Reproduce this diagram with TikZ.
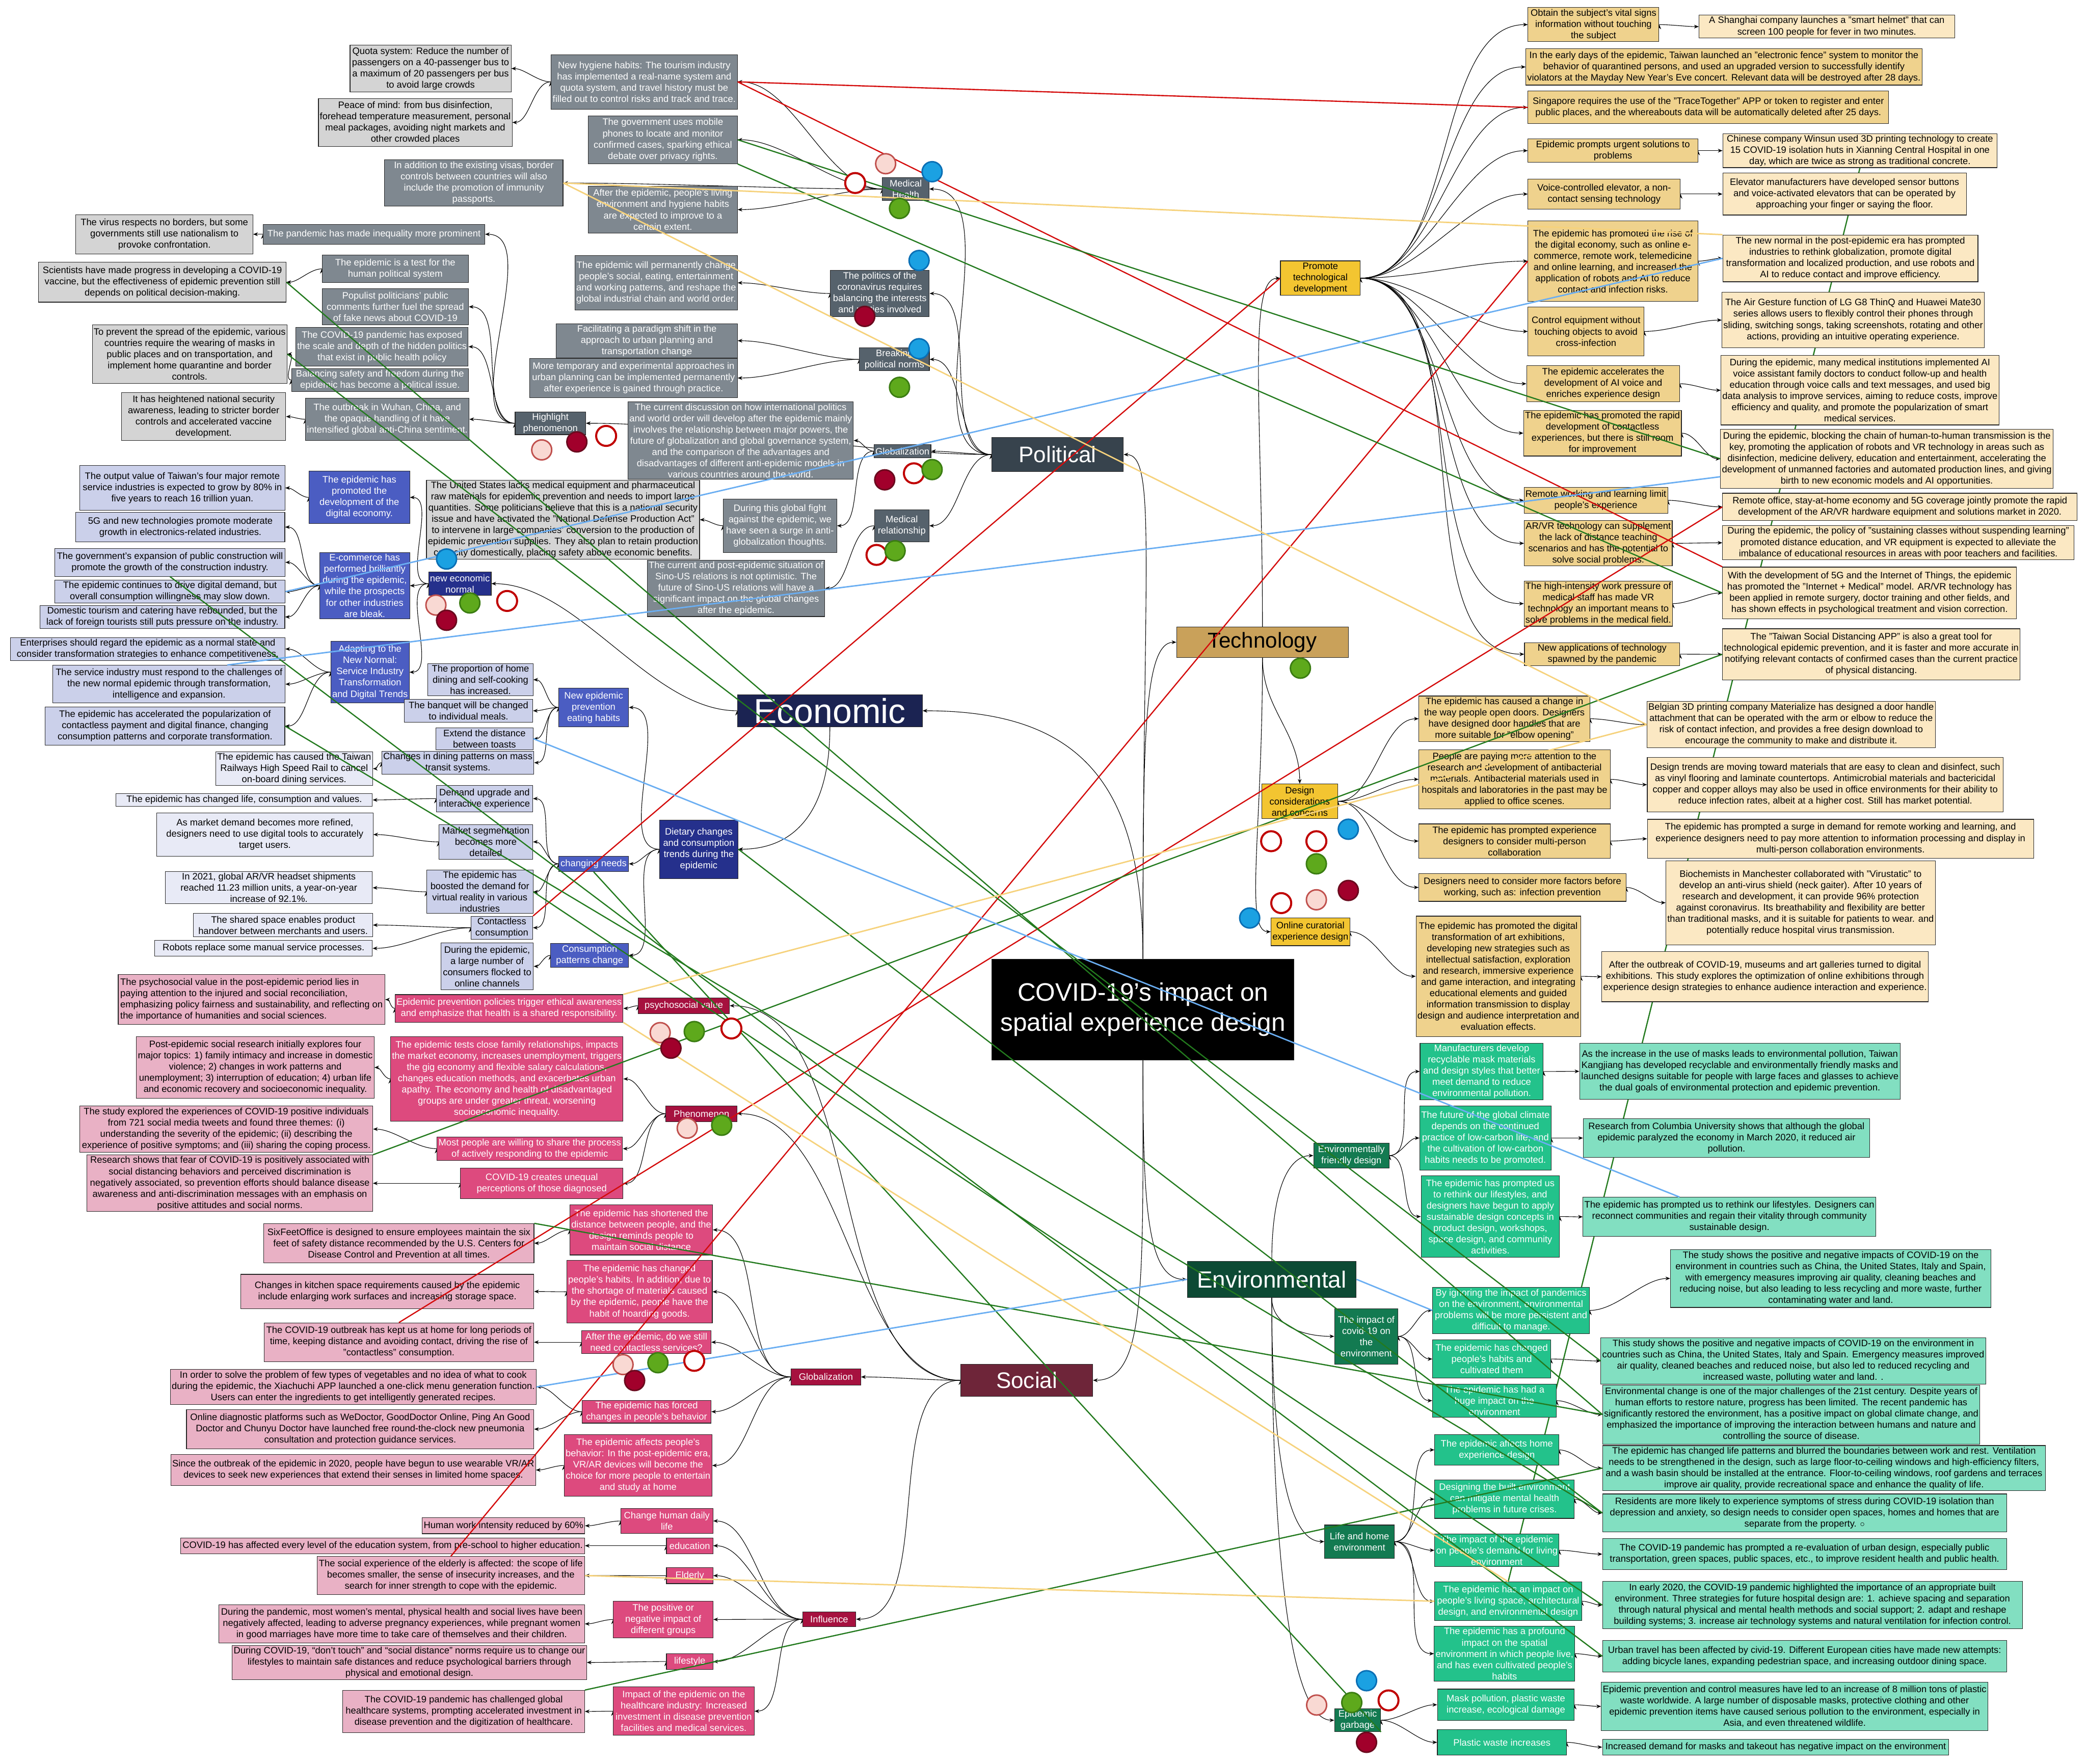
\documentclass[tikz,border=0pt]{standalone}
\usepackage{fontspec}
\setmainfont{Liberation Sans}
\usepackage{xcolor}
\usepackage{tikz}
\usetikzlibrary{arrows.meta,calc}
\pgfdeclarelayer{bg}
\pgfsetlayers{bg,main}
\definecolor{polA}{HTML}{37434D}
\definecolor{polB}{HTML}{56626C}
\definecolor{polC}{HTML}{7F8890}
\definecolor{polD}{HTML}{D4D4D4}
\definecolor{ecoA}{HTML}{1B2352}
\definecolor{ecoB}{HTML}{25308C}
\definecolor{ecoC}{HTML}{4B5DC2}
\definecolor{ecoD}{HTML}{CBD0EA}
\definecolor{ecoE}{HTML}{E8EAF6}
\definecolor{tecA}{HTML}{C9A15A}
\definecolor{tecB}{HTML}{F3C531}
\definecolor{tecC}{HTML}{EFD28D}
\definecolor{tecD}{HTML}{FBE8C3}
\definecolor{socA}{HTML}{6E2539}
\definecolor{socB}{HTML}{A6113F}
\definecolor{socC}{HTML}{DD4A7E}
\definecolor{socD}{HTML}{E9B1C5}
\definecolor{envA}{HTML}{0D4A34}
\definecolor{envB}{HTML}{137A51}
\definecolor{envC}{HTML}{23C28B}
\definecolor{envD}{HTML}{82DFC1}
\definecolor{lnR}{HTML}{D40B0B}
\definecolor{lnG}{HTML}{237A1E}
\definecolor{lnB}{HTML}{6AAEF2}
\definecolor{lnY}{HTML}{F6D27C}
\definecolor{dotPinkF}{HTML}{F9D9D3}
\definecolor{dotPinkD}{HTML}{C0504D}
\definecolor{dotRedF}{HTML}{A1002B}
\definecolor{dotRedD}{HTML}{6B0A1E}
\definecolor{dotGrnF}{HTML}{5EA91C}
\definecolor{dotGrnD}{HTML}{3B7D12}
\definecolor{dotRingD}{HTML}{C00000}
\definecolor{dotBluF}{HTML}{1BA1E2}
\definecolor{dotBluD}{HTML}{0A6FB5}

\begin{document}
\begin{tikzpicture}[x=0.05cm, y=-0.05cm,
  bx/.style={draw=black!85, line width=0.6pt, inner sep=1.5pt, align=center,
    font=\fontsize{10}{12}\selectfont},
  sz/.style 2 args={minimum width=#1*0.05cm, minimum height=#2*0.05cm},
  polhead/.style={bx, fill=polA, text=white, inner sep=2pt, font=\fontsize{24}{28}\selectfont},
  pol2/.style={bx, fill=polB, text=white},
  pol3/.style={bx, fill=polC, text=white},
  pol4/.style={bx, fill=polD},
  ecohead/.style={bx, fill=ecoA, text=white, inner sep=1pt, font=\fontsize{37}{40}\selectfont},
  eco2/.style={bx, fill=ecoB, text=white},
  eco3/.style={bx, fill=ecoC, text=white},
  eco4/.style={bx, fill=ecoD},
  eco5/.style={bx, fill=ecoE},
  techead/.style={bx, fill=tecA, inner sep=2pt, font=\fontsize{23}{26}\selectfont},
  tec2/.style={bx, fill=tecB},
  tec3/.style={bx, fill=tecC},
  tec4/.style={bx, fill=tecD},
  sochead/.style={bx, fill=socA, text=white, inner sep=2pt, font=\fontsize{24}{28}\selectfont},
  soc2/.style={bx, fill=socB, text=white},
  soc3/.style={bx, fill=socC, text=white},
  soc4/.style={bx, fill=socD},
  envhead/.style={bx, fill=envA, text=white, inner sep=2pt, font=\fontsize{25}{28}\selectfont},
  env2/.style={bx, fill=envB, text=white},
  env3/.style={bx, fill=envC, text=white},
  env4/.style={bx, fill=envD},
  dot/.style={circle, inner sep=0pt, minimum size=0.75cm, line width=1.6pt},
  dotpink/.style={dot, fill=dotPinkF, draw=dotPinkD},
  dotred/.style={dot, fill=dotRedF, draw=dotRedD},
  dotgreen/.style={dot, fill=dotGrnF, draw=dotGrnD},
  dotring/.style={dot, fill=white, draw=dotRingD, line width=2.2pt},
  dotblue/.style={dot, fill=dotBluF, draw=dotBluD},
  lk/.style={draw=black, line width=0.6pt, -{Stealth[length=5pt,width=4pt]}},
  tol/.style={out=180, in=0, looseness=0.8},
  tor/.style={out=0, in=180, looseness=0.8},
  xred/.style={draw=lnR, line width=1.3pt},
  xgreen/.style={draw=lnG, line width=1.3pt},
  xblue/.style={draw=lnB, line width=1.5pt},
  xyellow/.style={draw=lnY, line width=1.5pt},
]
\useasboundingbox (0,0) rectangle (1568,1325);

% centre
\node[bx, fill=black, text=white, sz={227}{76}, font=\fontsize{27}{32}\selectfont] (cen) at (858.7,758.5)
  {COVID-19's impact on\\spatial experience design};

% political
\node[polhead, sz={99}{25.6}] (pol) at (794.5,341.5) {Political};
\node[pol4, sz={121}{35}] (pq) at (323.5,51.5) {Quota system: Reduce the number of\\passengers on a 40-passenger bus to\\a maximum of 20 passengers per bus\\to avoid large crowds};
\node[pol4, sz={144}{36}] (pm) at (312,92) {Peace of mind: from bus disinfection,\\forehead temperature measurement, personal\\meal packages, avoiding night markets and\\other crowded places};
\node[pol3, sz={140}{41}] (ph) at (484,61.5) {New hygiene habits: The tourism industry\\has implemented a real-name system and\\quota system, and travel history must be\\filled out to control risks and track and trace.};
\node[pol3, sz={112}{36}] (pg) at (498,105) {The government uses mobile\\phones to locate and monitor\\confirmed cases, sparking ethical\\debate over privacy rights.};
\node[pol3, sz={134}{35}] (pv) at (356,137.5) {In addition to the existing visas, border\\controls between countries will also\\include the promotion of immunity\\passports.};
\node[pol3, sz={112}{35}] (pa) at (498,157.5) {After the epidemic, people's living\\environment and hygiene habits\\are expected to improve to a\\certain extent.};
\node[pol2, sz={35}{17.5}] (pmh) at (680.5,142) {Medical\\Health};
\node[pol4, sz={133}{29.5}] (pvr) at (123.5,176) {The virus respects no borders, but some\\governments still use nationalism to\\provoke confrontation.};
\node[pol3, sz={166.5}{15}] (pin) at (281,176) {The pandemic has made inequality more prominent};
\node[pol4, sz={186}{30}] (psc) at (122,212) {Scientists have made progress in developing a COVID-19\\vaccine, but the effectiveness of epidemic prevention still\\depends on political decision-making.};
\node[pol3, sz={110}{20.5}] (pte) at (297,202) {The epidemic is a test for the\\human political system};
\node[pol3, sz={110}{27}] (ppo) at (297,230.5) {Populist politicians' public\\comments further fuel the spread\\of fake news about COVID-19};
\node[pol4, sz={145}{44}] (ppr) at (142.5,266) {To prevent the spread of the epidemic, various\\countries require the wearing of masks in\\public places and on transportation, and\\implement home quarantine and border\\controls.};
\node[pol3, sz={129.4}{29}] (pex) at (287,260.5) {The COVID-19 pandemic has exposed\\the scale and depth of the hidden politics\\that exist in public health policy};
\node[pol3, sz={133}{17.4}] (pba) at (285.5,285.5) {Balancing safety and freedom during the\\epidemic has become a political issue.};
\node[pol4, sz={123.4}{36}] (pns) at (153,313) {It has heightened national security\\awareness, leading to stricter border\\controls and accelerated vaccine\\development.};
\node[pol3, sz={122}{32}] (pwu) at (291,315) {The outbreak in Wuhan, China, and\\the opaque handling of it have\\intensified global anti-China sentiment.};
\node[pol2, sz={53}{16}] (phl) at (413.5,318) {Highlight\\phenomenon};
\node[pol3, sz={122}{41}] (ppe) at (493,212.5) {The epidemic will permanently change\\people's social, eating, entertainment\\and working patterns, and reshape the\\global industrial chain and world order.};
\node[pol2, sz={74.4}{35}] (pco) at (661,220.5) {The politics of the\\coronavirus requires\\balancing the interests\\and parties involved};
\node[pol3, sz={136}{24}] (pfa) at (486,256) {Facilitating a paradigm shift in the\\approach to urban planning and\\transportation change};
\node[pol3, sz={156}{29.4}] (pmo) at (476,284) {More temporary and experimental approaches in\\urban planning can be implemented permanently\\after experience is gained through practice.};
\node[pol2, sz={52.5}{17.3}] (pbr) at (672,270) {Breaking\\political norms};
\node[pol3, sz={169}{58}] (pcu) at (556.5,331) {The current discussion on how international politics\\and world order will develop after the epidemic mainly\\involves the relationship between major powers, the\\future of globalization and global governance system,\\and the comparison of the advantages and\\disadvantages of different anti-epidemic models in\\various countries around the world.};
\node[pol2, sz={40}{10}] (pgl) at (678,339) {Globalization};
\node[pol4, sz={203.5}{59}] (pus) at (423,390.5) {The United States lacks medical equipment and pharmaceutical\\raw materials for epidemic prevention and needs to import large\\quantities. Some politicians believe that this is a national security\\issue and have activated the "National Defense Production Act"\\to intervene in large companies' conversion to the production of\\epidemic prevention supplies. They also plan to retain production\\capacity domestically, placing safety above economic benefits.};
\node[pol3, sz={85.3}{40}] (pfi) at (586,395) {During this global fight\\against the epidemic, we\\have seen a surge in anti-\\globalization thoughts.};
\node[pol2, sz={41}{24}] (pmr) at (677.5,395) {Medical\\relationship};
\node[pol3, sz={132.4}{40.5}] (psu) at (553,442) {The current and post-epidemic situation of\\Sino-US relations is not optimistic. The\\future of Sino-US relations will have a\\significant impact on the global changes\\after the epidemic.};

% economic
\node[ecohead, sz={139}{24.3}] (eco) at (623.5,534) {Economic};
\node[eco4, sz={154.2}{33.7}] (eov) at (137,366.6) {The output value of Taiwan's four major remote\\service industries is expected to grow by 80\% in\\five years to reach 16 trillion yuan.};
\node[eco3, sz={75.6}{39.4}] (edi) at (270,373.7) {The epidemic has\\promoted the\\development of the\\digital economy.};
\node[eco4, sz={157}{22}] (e5g) at (135.5,396) {5G and new technologies promote moderate\\growth in electronics-related industries.};
\node[eco4, sz={173}{21}] (ego) at (127.7,422.5) {The government's expansion of public construction will\\promote the growth of the construction industry.};
\node[eco3, sz={67.6}{49.7}] (eec) at (274,440) {E-commerce has\\performed brilliantly\\during the epidemic,\\while the prospects\\for other industries\\are bleak.};
\node[eco4, sz={173}{17}] (edd) at (127.7,444.5) {The epidemic continues to drive digital demand, but\\overall consumption willingness may slow down.};
\node[eco4, sz={184}{17}] (edt) at (122,463.5) {Domestic tourism and catering have rebounded, but the\\lack of foreign tourists still puts pressure on the industry.};
\node[eco2, sz={46.7}{17.6}] (enn) at (345.5,438.5) {new economic\\normal};
\node[eco4, sz={206.3}{17}] (een) at (111,487.6) {Enterprises should regard the epidemic as a normal state and\\consider transformation strategies to enhance competitiveness.};
\node[eco3, sz={58.6}{46.4}] (ead) at (278,505) {Adapting to the\\New Normal:\\Service Industry\\Transformation\\and Digital Trends};
\node[eco4, sz={174.5}{28.4}] (esv) at (127,514) {The service industry must respond to the challenges of\\the new normal epidemic through transformation,\\intelligence and expansion.};
\node[eco4, sz={180}{29}] (eac) at (124,545.5) {The epidemic has accelerated the popularization of\\contactless payment and digital finance, changing\\consumption patterns and corporate transformation.};
\node[eco4, sz={79}{22}] (epr) at (361,510.7) {The proportion of home\\dining and self-cooking\\has increased.};
\node[eco3, sz={52.5}{29}] (eeh) at (446,531.5) {New epidemic\\prevention\\eating habits};
\node[eco4, sz={96.5}{17}] (eba) at (352,534) {The banquet will be changed\\to individual meals.};
\node[eco4, sz={73}{16.5}] (eex) at (364,555) {Extend the distance\\between toasts};
\node[eco5, sz={118}{25.3}] (etr) at (221,577.5) {The epidemic has caused the Taiwan\\Railways High Speed Rail to cancel\\on-board dining services.};
\node[eco4, sz={113.5}{16.3}] (edp) at (344,573) {Changes in dining patterns on mass\\transit systems.};
\node[eco5, sz={192.6}{9.6}] (elc) at (183.5,601) {The epidemic has changed life, consumption and values.};
\node[eco4, sz={72.5}{20}] (edu) at (364,600) {Demand upgrade and\\interactive experience};
\node[eco5, sz={162.6}{32.4}] (emd) at (199,627) {As market demand becomes more refined,\\designers need to use digital tools to accurately\\target users.};
\node[eco4, sz={70.5}{26}] (ems) at (365,632.5) {Market segmentation\\becomes more\\detailed};
\node[eco3, sz={52.5}{11.6}] (ecn) at (446,649) {changing needs};
\node[eco2, sz={59}{44}] (edc) at (525,638) {Dietary changes\\and consumption\\trends during the\\epidemic};
\node[eco5, sz={155.6}{24}] (e21) at (202,667) {In 2021, global AR/VR headset shipments\\reached 11.23 million units, a year-on-year\\increase of 92.1\%.};
\node[eco4, sz={80}{30.4}] (evr) at (360.5,670) {The epidemic has\\boosted the demand for\\virtual reality in various\\industries};
\node[eco5, sz={134.6}{17.6}] (esh) at (212.7,695) {The shared space enables product\\handover between merchants and users.};
\node[eco4, sz={46.5}{17.2}] (ecl) at (377,697) {Contactless\\consumption};
\node[eco5, sz={163.6}{12}] (ero) at (198,712.5) {Robots replace some manual service processes.};
\node[eco4, sz={69.5}{35.3}] (eon) at (366,726) {During the epidemic,\\a large number of\\consumers flocked to\\online channels};
\node[eco3, sz={58.5}{18}] (ecp) at (443,717.7) {Consumption\\patterns change};

% social
\node[sochead, sz={99.2}{24}] (soc) at (771.4,1037) {Social};
\node[soc4, sz={200.4}{37.6}, align=left] (spv) at (189,751) {The psychosocial value in the post-epidemic period lies in\\paying attention to the injured and social reconciliation,\\emphasizing policy fairness and sustainability, and reflecting on\\the importance of humanities and social sciences.};
\node[soc3, sz={170.2}{20.7}] (sep) at (382.5,757.6) {Epidemic prevention policies trigger ethical awareness\\and emphasize that health is a shared responsibility.};
\node[soc2, sz={68.5}{11.7}] (sps) at (513.8,755.6) {psychosocial value};
\node[soc4, sz={176.5}{46.6}] (sre) at (191.8,802) {Post-epidemic social research initially explores four\\major topics: 1) family intimacy and increase in domestic\\violence; 2) changes in work patterns and\\unemployment; 3) interruption of education; 4) urban life\\and economic recovery and socioeconomic inequality.};
\node[soc3, sz={174.4}{63.8}] (sfa) at (380.8,810.6) {The epidemic tests close family relationships, impacts\\the market economy, increases unemployment, triggers\\the gig economy and flexible salary calculations,\\changes education methods, and exacerbates urban\\apathy. The economy and health of disadvantaged\\groups are under greater threat, worsening\\socioeconomic inequality.};
\node[soc2, sz={53.4}{11.8}] (sph) at (527,836.7) {Phenomenon};
\node[soc4, sz={220.2}{34.7}] (sst) at (170,848.3) {The study explored the experiences of COVID-19 positive individuals\\from 721 social media tweets and found three themes: (i)\\understanding the severity of the epidemic; (ii) describing the\\experience of positive symptoms; and (iii) sharing the coping process.};
\node[soc3, sz={139.5}{17.6}] (smo) at (398,863) {Most people are willing to share the process\\of actively responding to the epidemic};
\node[soc4, sz={214.6}{40.1}] (sfe) at (172.7,889) {Research shows that fear of COVID-19 is positively associated with\\social distancing behaviors and perceived discrimination is\\negatively associated, so prevention efforts should balance disease\\awareness and anti-discrimination messages with an emphasis on\\positive attitudes and social norms.};
\node[soc3, sz={122}{23.1}] (sun) at (407,889) {COVID-19 creates unequal\\perceptions of those diagnosed};
\node[soc3, sz={105.9}{37.7}] (ssh) at (481.8,924) {The epidemic has shortened the\\distance between people, and the\\design reminds people to\\maintain social distance};
\node[soc4, sz={203}{29.4}] (ssi) at (299.7,934) {SixFeetOffice is designed to ensure employees maintain the six\\feet of safety distance recommended by the U.S. Centers for\\Disease Control and Prevention at all times.};
\node[soc3, sz={108.3}{47}] (sha) at (480.5,970.5) {The epidemic has changed\\people's habits. In addition, due to\\the shortage of materials caused\\by the epidemic, people have the\\habit of hoarding goods.};
\node[soc4, sz={220.3}{25.8}] (ski) at (291,970.3) {Changes in kitchen space requirements caused by the epidemic\\include enlarging work surfaces and increasing storage space.};
\node[soc4, sz={202.7}{29.1}] (sho) at (299.7,1008.4) {The COVID-19 outbreak has kept us at home for long periods of\\time, keeping distance and avoiding contact, driving the rise of\\"contactless" consumption.};
\node[soc3, sz={97.2}{17.3}] (sct) at (485.6,1008.4) {After the epidemic, do we still\\need contactless services?};
\node[soc4, sz={271.3}{26.1}] (sxi) at (265.4,1042) {In order to solve the problem of few types of vegetables and no idea of what to cook\\during the epidemic, the Xiachuchi APP launched a one-click menu generation function.\\Users can enter the ingredients to get intelligently generated recipes.};
\node[soc3, sz={96.9}{17.2}] (sfo) at (485.8,1060.6) {The epidemic has forced\\changes in people's behavior};
\node[soc2, sz={52.4}{12.1}] (sgl) at (620.5,1034.5) {Globalization};
\node[soc4, sz={261}{29.6}] (sdi) at (270.6,1073.7) {Online diagnostic platforms such as WeDoctor, GoodDoctor Online, Ping An Good\\Doctor and Chunyu Doctor have launched free round-the-clock new pneumonia\\consultation and protection guidance services.};
\node[soc3, sz={109.6}{46.5}] (sbe) at (479.4,1101) {The epidemic affects people's\\behavior: In the post-epidemic era,\\VR/AR devices will become the\\choice for more people to entertain\\and study at home};
\node[soc4, sz={271.3}{23.1}] (swe) at (265.4,1104.4) {Since the outbreak of the epidemic in 2020, people have begun to use wearable VR/AR\\devices to seek new experiences that extend their senses in limited home spaces.};
\node[soc4, sz={121.9}{11.9}] (swi) at (378.3,1146.3) {Human work intensity reduced by 60\%};
\node[soc3, sz={69.3}{19}] (sdl) at (501,1142.7) {Change human daily\\life};
\node[soc4, sz={303.5}{11.9}] (sel) at (287.5,1161.3) {COVID-19 has affected every level of the education system, from pre-school to higher education.};
\node[soc3, sz={35}{11.9}] (sed) at (518.2,1161.3) {education};
\node[soc4, sz={201}{28.5}] (sse) at (338.7,1183.7) {The social experience of the elderly is affected: the scope of life\\becomes smaller, the sense of insecurity increases, and the\\search for inner strength to cope with the epidemic.};
\node[soc3, sz={35}{11.9}] (sol) at (518.2,1183.8) {Elderly};
\node[soc4, sz={274.8}{28.8}] (swo) at (301.8,1220) {During the pandemic, most women's mental, physical health and social lives have been\\negatively affected, leading to adverse pregnancy experiences, while pregnant women\\in good marriages have more time to take care of themselves and their children.};
\node[soc3, sz={74.9}{27.4}] (spn) at (498.3,1216.7) {The positive or\\negative impact of\\different groups};
\node[soc2, sz={40}{11}] (sif) at (623,1216.5) {Influence};
\node[soc4, sz={263.2}{23.7}] (sdt) at (307.6,1249) {During COVID-19, “don't touch” and “social distance” norms require us to change our\\lifestyles to maintain safe distances and reduce psychological barriers through\\physical and emotional design.};
\node[soc3, sz={35}{11.9}] (sli) at (518.2,1248.3) {lifestyle};
\node[soc4, sz={181.6}{31.7}] (shc) at (348.4,1285.8) {The COVID-19 pandemic has challenged global\\healthcare systems, prompting accelerated investment in\\disease prevention and the digitization of healthcare.};
\node[soc3, sz={105.9}{36.3}] (sih) at (513.7,1285.6) {Impact of the epidemic on the\\healthcare industry: Increased\\investment in disease prevention\\facilities and medical services.};

% technology
\node[techead, sz={129}{23}] (tec) at (948.5,482.5) {Technology};
\node[tec2, sz={60}{26}] (tpr) at (992,209) {Promote\\technological\\development};
\node[tec3, sz={98.4}{25.6}] (tob) at (1197.2,18.5) {Obtain the subject's vital signs\\information without touching\\the subject};
\node[tec4, sz={192}{17.1}] (tsh) at (1372.5,20) {A Shanghai company launches a "smart helmet" that can\\screen 100 people for fever in two minutes.};
\node[tec3, sz={294.3}{27.3}] (tfe) at (1295.2,50.3) {In the early days of the epidemic, Taiwan launched an "electronic fence" system to monitor the\\behavior of quarantined persons, and used an upgraded version to successfully identify\\violators at the Mayday New Year's Eve concert. Relevant data will be destroyed after 28 days.};
\node[tec3, sz={271}{24.5}] (tsg) at (1283.5,80.7) {Singapore requires the use of the "TraceTogether" APP or token to register and enter\\public places, and the whereabouts data will be automatically deleted after 25 days.};
\node[tec3, sz={127.6}{17.6}] (tur) at (1211.8,113.2) {Epidemic prompts urgent solutions to\\problems};
\node[tec4, sz={206.1}{22.4}] (tws) at (1397.4,113.2) {Chinese company Winsun used 3D printing technology to create\\15 COVID-19 isolation huts in Xianning Central Hospital in one\\day, which are twice as strong as traditional concrete.};
\node[tec3, sz={114.4}{22.4}] (tvo) at (1205.2,145.8) {Voice-controlled elevator, a non-\\contact sensing technology};
\node[tec4, sz={183}{31.5}] (tel) at (1385.8,145.8) {Elevator manufacturers have developed sensor buttons\\and voice-activated elevators that can be operated by\\approaching your finger or saying the floor.};
\node[tec3, sz={127.6}{60.4}] (tdg) at (1211.8,196.2) {The epidemic has promoted the rise of\\the digital economy, such as online e-\\commerce, remote work, telemedicine\\and online learning, and increased the\\application of robots and AI to reduce\\contact and infection risks.};
\node[tec4, sz={191.7}{35.2}] (tnn) at (1390.2,194.1) {The new normal in the post-epidemic era has prompted\\industries to rethink globalization, promote digital\\transformation and localized production, and use robots and\\AI to reduce contact and improve efficiency.};
\node[tec3, sz={87.2}{36.9}] (tce) at (1191.6,249) {Control equipment without\\touching objects to avoid\\cross-infection};
\node[tec4, sz={195.9}{41.6}] (tag) at (1392.3,240.5) {The Air Gesture function of LG G8 ThinQ and Huawei Mate30\\series allows users to flexibly control their phones through\\sliding, switching songs, taking screenshots, rotating and other\\actions, providing an intuitive operating experience.};
\node[tec3, sz={115}{27.4}] (tai) at (1204.5,288.3) {The epidemic accelerates the\\development of AI voice and\\enriches experience design};
\node[tec4, sz={206.3}{52.1}] (tmi) at (1397.4,293.2) {During the epidemic, many medical institutions implemented AI\\voice assistant family doctors to conduct follow-up and health\\education through voice calls and text messages, and used big\\data analysis to improve services, aiming to reduce costs, improve\\efficiency and quality, and promote the popularization of smart\\medical services.};
\node[tec3, sz={116}{34.4}] (trc) at (1204,325.4) {The epidemic has promoted the rapid\\development of contactless\\experiences, but there is still room\\for improvement};
\node[tec4, sz={246.8}{44.5}] (tbl) at (1417.6,344.7) {During the epidemic, blocking the chain of human-to-human transmission is the\\key, promoting the application of robots and VR technology in areas such as\\disinfection, medicine delivery, education and entertainment, accelerating the\\development of unmanned factories and automated production lines, and giving\\birth to new economic models and AI opportunities.};
\node[tec3, sz={107.4}{19.3}] (trw) at (1199,375.9) {Remote working and learning limit\\people's experience};
\node[tec4, sz={266.3}{20.5}] (tro) at (1427.4,380.8) {Remote office, stay-at-home economy and 5G coverage jointly promote the rapid\\development of the AR/VR hardware equipment and solutions market in 2020.};
\node[tec3, sz={111}{34.1}] (tar) at (1200.8,408.2) {AR/VR technology can supplement\\the lack of distance teaching\\scenarios and has the potential to\\solve social problems.};
\node[tec4, sz={264}{25.1}] (tsc) at (1426.2,407.8) {During the epidemic, the policy of "sustaining classes without suspending learning"\\promoted distance education, and VR equipment is expected to alleviate the\\imbalance of educational resources in areas with poor teachers and facilities.};
\node[tec3, sz={111}{33.6}] (thi) at (1200.8,453.5) {The high-intensity work pressure of\\medical staff has made VR\\technology an important means to\\solve problems in the medical field.};
\node[tec4, sz={220.8}{38.9}] (tio) at (1404.6,445.5) {With the development of 5G and the Internet of Things, the epidemic\\has promoted the "Internet + Medical" model. AR/VR technology has\\been applied in remote surgery, doctor training and other fields, and\\has shown effects in psychological treatment and vision correction.};
\node[tec3, sz={116.7}{16.1}] (tna) at (1203.7,491.5) {New applications of technology\\spawned by the pandemic};
\node[tec4, sz={223.4}{38.4}] (tta) at (1405.9,491.6) {The "Taiwan Social Distancing APP" is also a great tool for\\technological epidemic prevention, and it is faster and more accurate in\\notifying relevant contacts of confirmed cases than the current practice\\of physical distancing.};
\node[tec3, sz={128.5}{34.2}] (tdo) at (1130.3,540) {The epidemic has caused a change in\\the way people open doors. Designers\\have designed door handles that are\\more suitable for "elbow opening"};
\node[tec4, sz={216.2}{35}] (tbe) at (1345.7,544.4) {Belgian 3D printing company Materialize has designed a door handle\\attachment that can be operated with the arm or elbow to reduce the\\risk of contact infection, and provides a free design download to\\encourage the community to make and distribute it.};
\node[tec3, sz={143.8}{44.2}] (tab) at (1137.9,585.5) {People are paying more attention to the\\research and development of antibacterial\\materials. Antibacterial materials used in\\hospitals and laboratories in the past may be\\applied to office scenes.};
\node[tec4, sz={267.4}{40.7}] (ttr) at (1371.3,589.5) {Design trends are moving toward materials that are easy to clean and disinfect, such\\as vinyl flooring and laminate countertops. Antimicrobial materials and bactericidal\\copper and copper alloys may also be used in office environments for their ability to\\reduce infection rates, albeit at a higher cost. Still has market potential.};
\node[tec2, sz={57}{26}] (tds) at (976.5,602) {Design\\considerations\\and concerns};
\node[tec3, sz={143.8}{25.8}] (tmp) at (1137.9,631.9) {The epidemic has prompted experience\\designers to consider multi-person\\collaboration};
\node[tec4, sz={290.3}{29.3}] (tsu) at (1382.8,630.2) {The epidemic has prompted a surge in demand for remote working and learning, and\\experience designers need to pay more attention to information processing and display in\\multi-person collaboration environments.};
\node[tec3, sz={155.6}{21}] (tdn) at (1143.8,666.7) {Designers need to consider more factors before\\working, such as: infection prevention};
\node[tec4, sz={200.5}{63.2}] (tbi) at (1352.8,678.2) {Biochemists in Manchester collaborated with "Virustatic" to\\develop an anti-virus shield (neck gaiter). After 10 years of\\research and development, it can provide 96\% protection\\against coronavirus. Its breathability and flexibility are better\\than traditional masks, and it is suitable for patients to wear. and\\potentially reduce hospital virus transmission.};
\node[tec2, sz={57}{21}] (toc) at (984.5,700) {Online curatorial\\experience design};
\node[tec3, sz={122.4}{90.4}] (tax) at (1125.7,733.5) {The epidemic has promoted the digital\\transformation of art exhibitions,\\developing new strategies such as\\intellectual satisfaction, exploration\\and research, immersive experience\\and game interaction, and integrating\\educational elements and guided\\information transmission to display\\design and audience interpretation and\\evaluation effects.};
\node[tec4, sz={244.4}{37.6}] (tmu) at (1326.1,733.8) {After the outbreak of COVID-19, museums and art galleries turned to digital\\exhibitions. This study explores the optimization of online exhibitions through\\experience design strategies to enhance audience interaction and experience.};

% environmental
\node[envhead, sz={127}{27.3}] (env) at (955.5,961.2) {Environmental};
\node[env3, sz={92.6}{40.6}] (vma) at (1113.2,805) {Manufacturers develop\\recyclable mask materials\\and design styles that better\\meet demand to reduce\\environmental pollution.};
\node[env4, sz={240.9}{42.2}] (vkj) at (1307.2,804.9) {As the increase in the use of masks leads to environmental pollution, Taiwan\\Kangjiang has developed recyclable and environmentally friendly masks and\\launched designs suitable for people with large faces and glasses to achieve\\the dual goals of environmental protection and epidemic prevention.};
\node[env3, sz={98.1}{47.9}] (vcl) at (1116,855) {The future of the global climate\\depends on the continued\\practice of low-carbon life, and\\the cultivation of low-carbon\\habits needs to be promoted.};
\node[env4, sz={215.2}{29.3}] (vcu) at (1297.1,855) {Research from Columbia University shows that although the global\\epidemic paralyzed the economy in March 2020, it reduced air\\pollution.};
\node[env2, sz={56.7}{18.6}] (vef) at (1015.3,868.2) {Environmentally\\friendly design};
\node[env3, sz={104}{61.1}] (vrl) at (1119.7,914) {The epidemic has prompted us\\to rethink our lifestyles, and\\designers have begun to apply\\sustainable design concepts in\\product design, workshops,\\space design, and community\\activities.};
\node[env4, sz={218.7}{29.3}] (vrc) at (1299.3,914.2) {The epidemic has prompted us to rethink our lifestyles. Designers can\\reconnect communities and regain their vitality through community\\sustainable design.};
\node[env4, sz={240.8}{43.6}] (vst) at (1375.4,960.5) {The study shows the positive and negative impacts of COVID-19 on the\\environment in countries such as China, the United States, Italy and Spain,\\with emergency measures improving air quality, cleaning beaches and\\reducing noise, but also leading to less recycling and more waste, further\\contaminating water and land.};
\node[env3, sz={117.9}{34.9}] (vig) at (1135.3,984.5) {By ignoring the impact of pandemics\\on the environment, environmental\\problems will be more persistent and\\difficult to manage.};
\node[env2, sz={47.7}{41.6}] (vim) at (1026.5,1004) {The impact of\\covid-19 on\\the\\environment};
\node[env3, sz={88.7}{28.6}] (vch) at (1120.7,1021) {The epidemic has changed\\people's habits and\\cultivated them};
\node[env4, sz={286.6}{34.6}] (vts) at (1347.3,1022.5) {This study shows the positive and negative impacts of COVID-19 on the environment in\\countries such as China, the United States, Italy and Spain. Emergency measures improved\\air quality, cleaned beaches and reduced noise, but also led to reduced recycling and\\increased waste, polluting water and land. .};
\node[env3, sz={93.1}{25}] (vhu) at (1122.8,1052.3) {The epidemic has had a\\huge impact on the\\environment};
\node[env4, sz={283.5}{44.4}] (vec) at (1345.8,1062.7) {Environmental change is one of the major challenges of the 21st century. Despite years of\\human efforts to restore nature, progress has been limited. The recent pandemic has\\significantly restored the environment, has a positive impact on global climate change, and\\emphasized the importance of improving the interaction between humans and nature and\\controlling the source of disease.};
\node[env3, sz={93.4}{23.1}] (vho) at (1124.6,1089.3) {The epidemic affects home\\experience design};
\node[env4, sz={332.8}{33.3}] (vlp) at (1370.4,1103) {The epidemic has changed life patterns and blurred the boundaries between work and rest. Ventilation\\needs to be strengthened in the design, such as large floor-to-ceiling windows and high-efficiency filters,\\and a wash basin should be installed at the entrance. Floor-to-ceiling windows, roof gardens and terraces\\improve air quality, provide recreational space and enhance the quality of life.};
\node[env3, sz={104.9}{28.9}] (vbu) at (1130.4,1126.3) {Designing the built environment\\can mitigate mental health\\problems in future crises.};
\node[env4, sz={303.6}{28.6}] (vrs) at (1355.8,1136.7) {Residents are more likely to experience symptoms of stress during COVID-19 isolation than\\depression and anxiety, so design needs to consider open spaces, homes and homes that are\\separate from the property. $\circ$};
\node[env2, sz={52.5}{24.9}] (vlh) at (1021.4,1158.2) {Life and home\\environment};
\node[env3, sz={93.4}{24.7}] (vdm) at (1124.6,1164.7) {The impact of the epidemic\\on people's demand for living\\environment};
\node[env4, sz={303.6}{23.5}] (vud) at (1355.8,1167.6) {The COVID-19 pandemic has prompted a re-evaluation of urban design, especially public\\transportation, green spaces, public spaces, etc., to improve resident health and public health.};
\node[env3, sz={110.4}{28.9}] (vls) at (1133.1,1203) {The epidemic has an impact on\\people's living space, architectural\\design, and environmental design};
\node[env4, sz={315.4}{35.5}] (vhd) at (1361.7,1205.9) {In early 2020, the COVID-19 pandemic highlighted the importance of an appropriate built\\environment. Three strategies for future hospital design are: 1. achieve spacing and separation\\through natural physical and mental health methods and social support; 2. adapt and reshape\\building systems; 3. increase air technology systems and natural ventilation for infection control.};
\node[env3, sz={104.9}{41.4}] (vpf) at (1130.4,1242.4) {The epidemic has a profound\\impact on the spatial\\environment in which people live,\\and has even cultivated people's\\habits};
\node[env4, sz={303.6}{23.5}] (vut) at (1355.8,1244.3) {Urban travel has been affected by civid-19. Different European cities have made new attempts:\\adding bicycle lanes, expanding pedestrian space, and increasing outdoor dining space.};
\node[env2, sz={34.7}{16.2}] (vga) at (1020,1292.4) {Epidemic\\garbage};
\node[env3, sz={102.9}{23.6}] (vmp) at (1131.4,1280.8) {Mask pollution, plastic waste\\increase, ecological damage};
\node[env4, sz={288.6}{36.6}] (v8m) at (1348.3,1282) {Epidemic prevention and control measures have led to an increase of 8 million tons of plastic\\waste worldwide. A large number of disposable masks, protective clothing and other\\epidemic prevention items have caused serious pollution to the environment, especially in\\Asia, and even threatened wildlife.};
\node[env3, sz={97}{19.3}] (vpw) at (1128.4,1309) {Plastic waste increases};
\node[env4, sz={260.2}{12}] (vid) at (1334.1,1312.6) {Increased demand for masks and takeout has negative impact on the environment};

\begin{pgfonlayer}{bg}
  \fill[white] (0,0) rectangle (1568,1325);
  % centre to the five themes
  \draw[lk] (cen.north) .. controls +(0,-300) and +(25,0) .. (pol.east);
  \draw[lk] (cen.north) .. controls +(0,-130) and +(120,0) .. (eco.east);
  \draw[lk] (cen.north) .. controls +(0,-160) and +(-25,0) .. (tec.west);
  \draw[lk] (cen.south) .. controls +(0,170) and +(40,0) .. (soc.east);
  \draw[lk] (cen.south) .. controls +(0,110) and +(-30,0) .. (env.west);
  % political tree
  \draw[lk] (pol.west) edge[tol] (phl.east) edge[tol] (pmh.east) edge[tol] (pco.east)
    edge[tol] (pbr.east) edge[tol] (pgl.east) edge[tol] (pmr.east);
  \draw[lk] (pmh.west) edge[tol] (ph.east) edge[tol] (pg.east) edge[tol] (pv.east) edge[tol] (pa.east);
  \draw[lk] (ph.west) edge[tol] (pq.east) edge[tol] (pm.east);
  \draw[lk] (phl.west) edge[tol] (pin.east) edge[tol] (ppo.east) edge[tol] (pex.east) edge[tol] (pwu.east);
  \draw[lk] (pin.west) edge[tol] (pvr.east);
  \draw[lk] (pte.west) edge[tol] (psc.east);
  \draw[lk] (pba.west) edge[tol] (ppr.east);
  \draw[lk] (pwu.west) edge[tol] (pns.east);
  \draw[lk] (pco.west) edge[tol] (ppe.east);
  \draw[lk] (pbr.west) edge[tol] (pfa.east) edge[tol] (pmo.east);
  \draw[lk] (pgl.west) edge[tol] (pcu.east) edge[tol] (pfi.east);
  \draw[lk] (pfi.west) edge[tol] (pus.east);
  \draw[lk] (pmr.west) edge[tol] (psu.east);
  % economic tree
  \draw[lk] (eco.west) edge[tol] (enn.east);
  \draw[lk] (eco.south) .. controls +(0,60) and +(45,0) .. (edc.east);
  \draw[lk] (enn.west) edge[tol] (edi.east) edge[tol] (eec.east) edge[tol] (ead.east);
  \draw[lk] (edi.west) edge[tol] (eov.east);
  \draw[lk] (eec.west) edge[tol] (e5g.east) edge[tol] (ego.east) edge[tol] (edd.east) edge[tol] (edt.east);
  \draw[lk] (ead.west) edge[tol] (een.east) edge[tol] (esv.east) edge[tol] (eac.east);
  \draw[lk] (edc.west) edge[tol] (eeh.east) edge[tol] (ecn.east) edge[tol] (ecp.east);
  \draw[lk] (eeh.west) edge[tol] (epr.east) edge[tol] (eba.east) edge[tol] (eex.east) edge[tol] (edp.east);
  \draw[lk] (edp.west) edge[tol] (etr.east);
  \draw[lk] (ecn.west) edge[tol] (edu.east) edge[tol] (ems.east) edge[tol] (evr.east) edge[tol] (ecl.east);
  \draw[lk] (edu.west) edge[tol] (elc.east);
  \draw[lk] (ems.west) edge[tol] (emd.east);
  \draw[lk] (evr.west) edge[tol] (e21.east);
  \draw[lk] (ecl.west) edge[tol] (esh.east) edge[tol] (ero.east);
  \draw[lk] (ecp.west) edge[tol] (eon.east);
  % social tree
  \draw[lk] (soc.west) edge[tol] (sgl.east) edge[tol] (sps.east) edge[tol] (sph.east) edge[tol] (sif.east);
  \draw[lk] (sps.west) edge[tol] (sep.east);
  \draw[lk] (sep.west) edge[tol] (spv.east);
  \draw[lk] (sph.west) edge[tol] (sfa.east) edge[tol] (smo.east) edge[tol] (sun.east);
  \draw[lk] (sfa.west) edge[tol] (sre.east);
  \draw[lk] (smo.west) edge[tol] (sst.east);
  \draw[lk] (sun.west) edge[tol] (sfe.east);
  \draw[lk] (sgl.west) edge[tol] (ssh.east) edge[tol] (sha.east) edge[tol] (sct.east)
    edge[tol] (sfo.east) edge[tol] (sbe.east);
  \draw[lk] (ssh.west) edge[tol] (ssi.east);
  \draw[lk] (sha.west) edge[tol] (ski.east);
  \draw[lk] (sct.west) edge[tol] (sho.east);
  \draw[lk] (sfo.west) edge[tol] (sxi.east) edge[tol] (sdi.east);
  \draw[lk] (sbe.west) edge[tol] (swe.east);
  \draw[lk] (sif.west) edge[tol] (sdl.east) edge[tol] (sed.east) edge[tol] (sol.east)
    edge[tol] (spn.east) edge[tol] (sli.east) edge[tol] (sih.east);
  \draw[lk] (sdl.west) edge[tol] (swi.east);
  \draw[lk] (sed.west) edge[tol] (sel.east);
  \draw[lk] (sol.west) edge[tol] (sse.east);
  \draw[lk] (spn.west) edge[tol] (swo.east);
  \draw[lk] (sli.west) edge[tol] (sdt.east);
  \draw[lk] (sih.west) edge[tol] (shc.east);
  % technology tree
  \draw[lk] (tec.north) .. controls +(0,-160) and +(-25,0) .. (tpr.west);
  \draw[lk] (tec.south) to[out=-90,in=90] (tds.north);
  \draw[lk] (tec.south) .. controls +(0,130) and +(-20,0) .. (toc.west);
  \draw[lk] (tpr.east) edge[tor] (tob.west) edge[tor] (tfe.west) edge[tor] (tsg.west)
    edge[tor] (tur.west) edge[tor] (tvo.west) edge[tor] (tdg.west) edge[tor] (tce.west)
    edge[tor] (tai.west) edge[tor] (trc.west) edge[tor] (trw.west) edge[tor] (tar.west)
    edge[tor] (thi.west) edge[tor] (tna.west);
  \draw[lk] (tob.east) edge[tor] (tsh.west);
  \draw[lk] (tur.east) edge[tor] (tws.west);
  \draw[lk] (tvo.east) edge[tor] (tel.west);
  \draw[lk] (tdg.east) edge[tor] (tnn.west);
  \draw[lk] (tce.east) edge[tor] (tag.west);
  \draw[lk] (tai.east) edge[tor] (tmi.west);
  \draw[lk] (trc.east) edge[tor] (tbl.west);
  \draw[lk] (trw.east) edge[tor] (tro.west);
  \draw[lk] (tar.east) edge[tor] (tsc.west);
  \draw[lk] (thi.east) edge[tor] (tio.west);
  \draw[lk] (tna.east) edge[tor] (tta.west);
  \draw[lk] (tds.east) edge[tor] (tdo.west) edge[tor] (tab.west) edge[tor] (tmp.west) edge[tor] (tdn.west);
  \draw[lk] (tdo.east) edge[tor] (tbe.west);
  \draw[lk] (tab.east) edge[tor] (ttr.west);
  \draw[lk] (tmp.east) edge[tor] (tsu.west);
  \draw[lk] (tdn.east) edge[tor] (tbi.west);
  \draw[lk] (toc.east) edge[tor] (tax.west);
  \draw[lk] (tax.east) edge[tor] (tmu.west);
  % environmental tree
  \draw[lk] (env.north) .. controls +(0,-50) and +(-20,0) .. (vef.west);
  \draw[lk] (env.south) .. controls +(0,20) and +(-25,0) .. (vim.west);
  \draw[lk] (env.south) .. controls +(0,130) and +(-25,0) .. (vlh.west);
  \draw[lk] (env.south) .. controls +(0,250) and +(-25,0) .. (vga.west);
  \draw[lk] (vef.east) edge[tor] (vma.west) edge[tor] (vcl.west) edge[tor] (vrl.west);
  \draw[lk] (vma.east) edge[tor] (vkj.west);
  \draw[lk] (vcl.east) edge[tor] (vcu.west);
  \draw[lk] (vrl.east) edge[tor] (vrc.west);
  \draw[lk] (vim.east) edge[tor] (vig.west) edge[tor] (vch.west) edge[tor] (vhu.west);
  \draw[lk] (vig.east) edge[tor] (vst.west);
  \draw[lk] (vch.east) edge[tor] (vts.west);
  \draw[lk] (vhu.east) edge[tor] (vec.west);
  \draw[lk] (vlh.east) edge[tor] (vho.west) edge[tor] (vbu.west) edge[tor] (vdm.west)
    edge[tor] (vls.west) edge[tor] (vpf.west);
  \draw[lk] (vho.east) edge[tor] (vlp.west);
  \draw[lk] (vbu.east) edge[tor] (vrs.west);
  \draw[lk] (vdm.east) edge[tor] (vud.west);
  \draw[lk] (vls.east) edge[tor] (vhd.west);
  \draw[lk] (vpf.east) edge[tor] (vut.west);
  \draw[lk] (vga.east) edge[tor] (vmp.west) edge[tor] (vpw.west);
  \draw[lk] (vmp.east) edge[tor] (v8m.west);
  \draw[lk] (vpw.east) edge[tor] (vid.west);
  \draw[xgreen] (tws.south) -- (vls.north);
\end{pgfonlayer}

% cross links
\draw[xred] (ph.east) -- (tsg.west);
\draw[xred] (ph.east) -- (tio.north west);
\draw[xred] (tpr.west) -- (ecl.north east);
\draw[xred] (tdg.west) -- (sse.north);
\draw[xred] (tro.west) -- (sho.north);
\draw[xgreen] (pg.east) -- (tbl.west);
\draw[xgreen] (pg.south east) -- (tio.west);
\draw[xgreen] (sfe.north east) -- (tta.west);
\draw[xgreen] (shc.north east) -- (vlp.west);
\draw[xgreen] (ssi.north east) -- (vec.west);
\draw[xgreen] (psc.east) -- (vec.west);
\draw[xgreen] (ppr.east) -- (vts.west);
\draw[xgreen] (ego.south) -- (vut.west);
\draw[xgreen] (eac.east) -- (vrs.west);
\draw[xgreen] (evr.east) -- (vhd.west);
\draw[xgreen] (ecn.south) -- (vga.south east);
\draw[xgreen] (edc.east) -- (vrs.west);
\draw[xblue] (edd.east) -- (tnn.west);
\draw[xblue] ($(esv.north)!0.5!(esv.north east)$) -- ($(tbl.west)!0.6!(tbl.south west)$);
\draw[xblue] (eex.east) -- ($(vrc.north west)!0.33!(vrc.north east)$);
\draw[xblue] (sxi.east) -- (env.west);
\draw[xblue] (env.east) -- (vig.west);
\draw[xyellow] (pv.east) -- (tnn.north west);
\draw[xyellow] (pv.east) -- (tbe.west);
\draw[xyellow] (sep.north east) -- (tbe.west);
\draw[xyellow] (sep.south east) -- (vls.north);
\draw[xyellow] (sse.east) -- (vls.west);

% markers
\node[dotpink] (k1) at (665.4,123) {};
\node[dotring] (k2) at (642.5,137.5) {};
\node[dotblue] (k3) at (700.3,129) {};
\node[dotgreen] (k4) at (675.8,156.6) {};
\node[dotblue] (k5) at (690.5,195.7) {};
\node[dotred] (k6) at (649.7,237.7) {};
\node[dotblue] (k7) at (690.5,262) {};
\node[dotgreen] (k8) at (675.8,291) {};
\node[dotpink] (k9) at (407,338) {};
\node[dotred] (k10) at (433.4,332) {};
\node[dotring] (k11) at (455.4,327.5) {};
\node[dotred] (k12) at (664.7,360.5) {};
\node[dotring] (k13) at (686.6,355.6) {};
\node[dotgreen] (k14) at (700.3,352.8) {};
\node[dotring] (k15) at (658.5,416.9) {};
\node[dotgreen] (k16) at (672.5,413.8) {};
\node[dotblue] (k17) at (335.5,420) {};
\node[dotpink] (k18) at (327.5,454.6) {};
\node[dotred] (k19) at (335.5,466) {};
\node[dotgreen] (k20) at (353,453) {};
\node[dotring] (k21) at (381,451.5) {};
\node[dotpink] (k22) at (496,775.8) {};
\node[dotred] (k23) at (504.1,787.5) {};
\node[dotgreen] (k24) at (521.6,775) {};
\node[dotring] (k25) at (549.5,772.7) {};
\node[dotpink] (k26) at (516.3,847.6) {};
\node[dotgreen] (k27) at (542.2,845.4) {};
\node[dotpink] (k28) at (468.1,1025.2) {};
\node[dotred] (k29) at (476.8,1037.2) {};
\node[dotgreen] (k30) at (494.3,1023.8) {};
\node[dotring] (k31) at (521.6,1022.4) {};
\node[dotgreen] (k32) at (977,502) {};
\node[dotring] (k33) at (955,632) {};
\node[dotring] (k34) at (989,632) {};
\node[dotblue] (k35) at (1013,623) {};
\node[dotgreen] (k36) at (989,649) {};
\node[dotred] (k37) at (1013,669) {};
\node[dotring] (k38) at (962.6,678.5) {};
\node[dotpink] (k39) at (989,676) {};
\node[dotblue] (k40) at (938.9,689.7) {};
\node[dotblue] (k41) at (1026.7,1262.7) {};
\node[dotpink] (k42) at (989.2,1281) {};
\node[dotgreen] (k43) at (1015.6,1279.1) {};
\node[dotring] (k44) at (1043.2,1277.5) {};
\node[dotred] (k45) at (1026.7,1309) {};
\end{tikzpicture}
\end{document}
